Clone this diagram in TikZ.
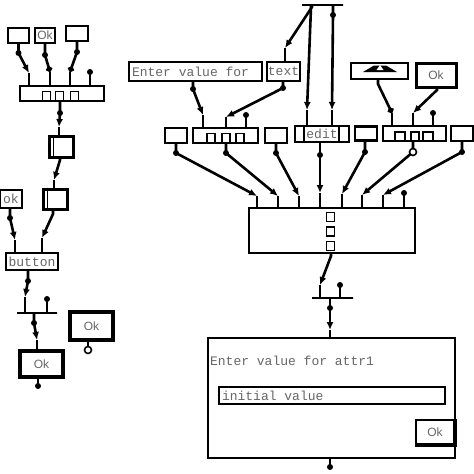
\documentclass[tikz,border=0pt]{standalone}
\usepackage{fontspec}
\newfontfamily\monofont{Liberation Mono}
\newfontfamily\okfont{Liberation Sans}
\usetikzlibrary{arrows.meta,calc}
\tikzset{
  caja/.style={draw, line width=2.2pt, fill=white, inner sep=0pt, text=black!60, font=\monofont\fontsize{13}{15}\selectfont},
  cajaok/.style={caja, font=\okfont\fontsize{12}{14}\selectfont},
  cuadro/.style={draw, line width=1.8pt, fill=white, inner sep=0pt, minimum width=8pt, minimum height=9pt},
  barra/.style={draw, line width=2.4pt, inner sep=0pt, minimum height=0pt},
  cable/.style={line width=2.6pt},
  punta/.style={-{Latex[length=8pt,width=7pt]}},
  bola/.style={-{Circle[length=6pt]}},
  nudo/.style={circle, fill, inner sep=0pt, minimum size=6pt},
  hueco/.style={circle, draw, fill=white, line width=1.6pt, inner sep=0pt, minimum size=7pt},
  nada/.style={inner sep=0pt, minimum size=0pt},
}
\begin{document}
\begin{tikzpicture}[x=1pt, y=-1pt]
	\useasboundingbox (0,0) rectangle (474,474);

	% Cajas de la columna izquierda
	\node[caja, minimum width=21, minimum height=15] (L1) at (18.5,35.5) {};
	\node[cajaok, minimum width=20, minimum height=15] (L2) at (45,35.5) {Ok};
	\node[caja, minimum width=22, minimum height=15] (L3) at (77,33.5) {};
	\node[caja, minimum width=84, minimum height=15] (busL) at (62,93.5) {};
	\node[cuadro] at (46.5,96) {};
	\node[cuadro] at (59.5,96) {};
	\node[cuadro] at (74.5,96) {};
	\node[caja, line width=3pt, minimum width=24, minimum height=21] (L4) at (61,146.5) {};
	\node[caja, line width=3pt, minimum width=24, minimum height=20] (L5) at (55,199) {};
	\draw[line width=1.6pt] ([xshift=6]L4.north west) -- ([xshift=6]L4.south west);
	\draw[line width=1.6pt] ([xshift=6]L5.north west) -- ([xshift=6]L5.south west);
	\node[caja, minimum width=22, minimum height=18] (okL) at (11,199) {ok};
	\node[caja, minimum width=52, minimum height=17] (btn) at (32,261.5) {button};
	\node[barra, minimum width=40] (busB) at (37,313) {};
	\node[cajaok, line width=4.5pt, minimum width=43, minimum height=26] (L6) at (41.5,364) {Ok};
	\node[cajaok, line width=4pt, minimum width=43, minimum height=28] (L7) at (91.5,326) {Ok};

	% Cajas de arriba a la derecha
	\node[barra, minimum width=41] (busT) at (322.5,5) {};
	\node[caja, minimum width=133, minimum height=19] (ent) at (195.5,71.5) {\makebox[127pt][l]{Enter value for}};
	\node[caja, minimum width=33, minimum height=19] (txt) at (283.5,71.5) {text};
	\node[caja, minimum width=57, minimum height=16] (arr) at (379.5,71) {};
	\fill (363,72) -- (374,65.5) -- (386,65.5) -- (397,72) -- cycle;
	\fill[white] (376.5,70) -- (380,65) -- (383.5,70) -- cycle;
	\node[cajaok, line width=3pt, minimum width=40, minimum height=24] (okR) at (436,75) {Ok};

	% Fila de cajas sobre la caja grande
	\node[caja, minimum width=22, minimum height=15] (s1) at (176,135.5) {};
	\node[caja, minimum width=65, minimum height=15] (sqL) at (225.5,135.5) {};
	\node[cuadro] at (211,138) {};
	\node[cuadro] at (226,138) {};
	\node[cuadro] at (240,138) {};
	\node[caja, minimum width=22, minimum height=15] (s2) at (276,135.5) {};
	\node[caja, minimum width=54, minimum height=16] (edit) at (322,134) {edit};
	\draw[line width=1.6pt] ([xshift=10]edit.north west) -- ([xshift=10]edit.south west);
	\draw[line width=1.6pt] ([xshift=-11]edit.north east) -- ([xshift=-11]edit.south east);
	\node[caja, minimum width=22, minimum height=14] (s3) at (366,133.5) {};
	\node[caja, minimum width=63, minimum height=15] (sqR) at (414.5,133.5) {};
	\node[cuadro, minimum width=10] at (400,136.5) {};
	\node[cuadro] at (415,136.5) {};
	\node[cuadro, minimum width=10] at (428,136.5) {};
	\node[caja, minimum width=22, minimum height=15] (s4) at (462,133.5) {};

	% Caja grande y dialogo
	\node[caja, minimum width=166, minimum height=45] (main) at (332,230.5) {};
	\node[cuadro] at (330.5,217) {};
	\node[cuadro] at (330.5,231.5) {};
	\node[cuadro] at (330.5,246) {};
	\node[barra, minimum width=41] (busM) at (332.5,298) {};
	\node[caja, minimum width=247, minimum height=120] (dlg) at (331.5,398) {};
	\node[caja, draw=none, fill=none, anchor=west] (dlgtit) at (209,361) {Enter value for attr1};
	\node[caja, minimum width=226, minimum height=17] (campo) at (332,395.5) {\makebox[220pt][l]{initial value}};
	\node[cajaok, line width=1.8pt, minimum width=38, minimum height=24] (okD) at (435,432) {Ok};
	\draw[line width=4pt] (okD.north east) -- (okD.south east) -- (okD.south west);

	% Cables entre cajas
	\foreach \src/\a/\b/\dst/\ma/\mb in {
		L1/{18.5,53}/{29,73}/busL/nudo/punta,
		L2/{45,55}/{50,72}/busL/nudo/bola,
		L3/{77,52}/{70,72}/busL/nudo/bola,
		busL/{60,113}/{59,127}/L4/nudo/punta,
		L4/{60,160}/{54,180}/L5/nada/punta,
		okL/{10,218}/{15,240}/btn/nudo/punta,
		L5/{53,214}/{42,238}/btn/nada/punta,
		btn/{28,281}/{25,297}/busB/nudo/punta,
		busB/{34,323}/{37,340}/L6/nudo/punta,
		busT/{312,7}/{285,48}/txt/nada/punta,
		busT/{311,7}/{307,110}/edit/nada/punta,
		busT/{333,15}/{332,110}/edit/nudo/punta,
		ent/{193,89}/{203,115}/sqL/nudo/punta,
		txt/{283,88}/{226,117}/sqL/nudo/punta,
		arr/{378,84}/{392,113}/sqR/nada/bola,
		okR/{437,90}/{413,113}/sqR/nada/punta,
		s1/{176,153}/{257,196}/main/nudo/punta,
		sqL/{226,153}/{278,196}/main/nudo/punta,
		s2/{276,153}/{299,196}/main/nudo/punta,
		edit/{320,155}/{320,193}/main/nudo/punta,
		s3/{365,152}/{342,194}/main/nudo/punta,
		sqR/{413,152}/{362,195}/main/hueco/punta,
		s4/{462,152}/{383,195}/main/nudo/punta,
		main/{331,256}/{320,285}/busM/nada/punta,
		busM/{330,308}/{330,330}/dlg/nudo/punta}
	{
		\coordinate (pa) at (\a);
		\coordinate (pb) at (\b);
		\draw[cable,\mb] (pa |- \src.south) -- (pa) -- (pb);
		\draw[cable] (pb) -- (pb |- \dst.north);
		\node[\ma] at (pa) {};
	}

	% Patas sueltas
	\foreach \p/\dst in {{90,72}/busL, {246,115}/sqL, {433,113}/sqR, {404,193}/main, {340,285}/busM, {47,299}/busB}
	{
		\coordinate (ps) at (\p);
		\draw[cable] (ps) -- (ps |- \dst.north);
		\node[nudo] at (ps) {};
	}

	% Salidas libres
	\coordinate (finL6) at (38,386);
	\coordinate (finL7) at (88,350);
	\coordinate (finD) at (330,467);
	\draw[cable] (finL6 |- L6.south) -- (finL6);
	\node[nudo] at (finL6) {};
	\draw[cable] (finL7 |- L7.south) -- (finL7);
	\node[hueco] at (finL7) {};
	\draw[cable] (finD |- dlg.south) -- (finD);
	\node[nudo] at (finD) {};

\end{tikzpicture}
\end{document}
